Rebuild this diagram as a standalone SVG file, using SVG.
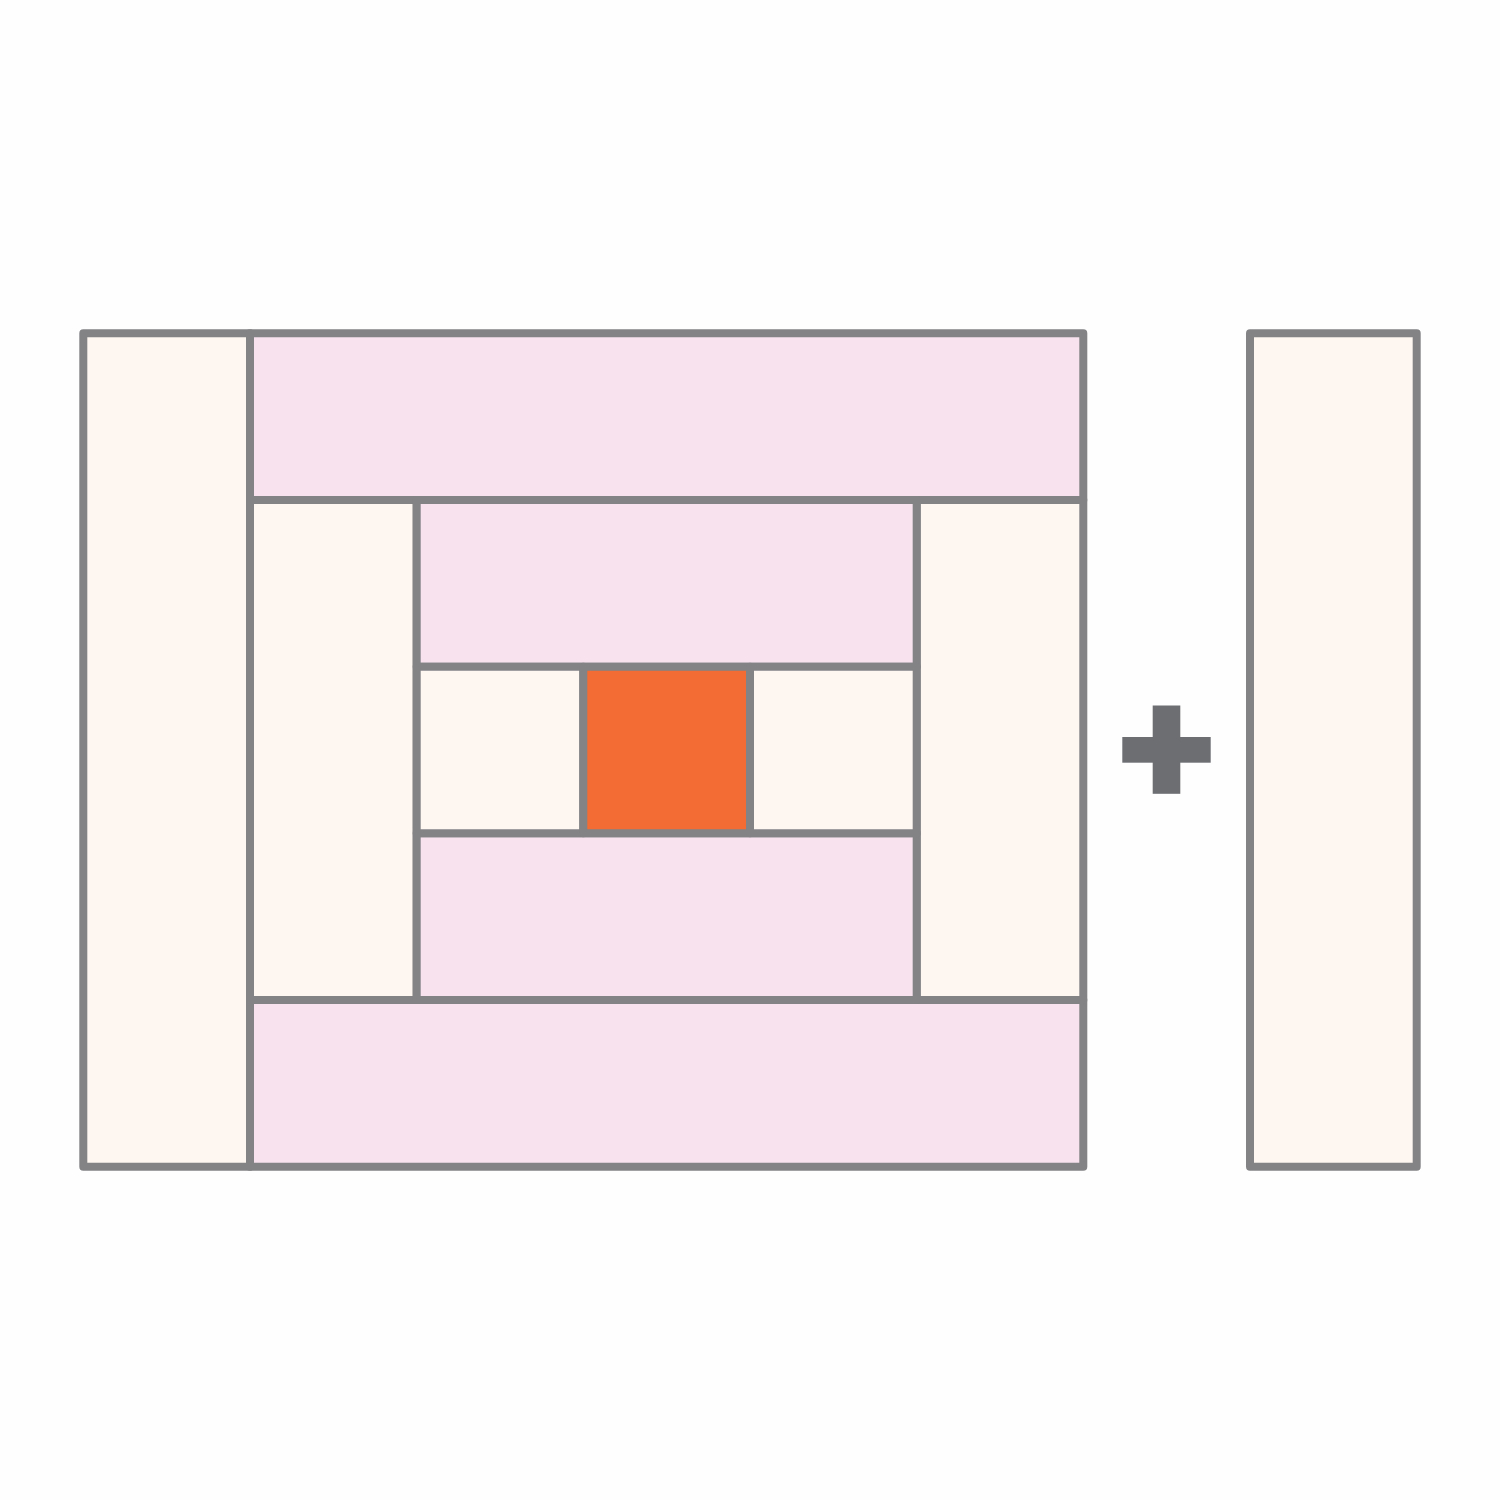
<svg xmlns="http://www.w3.org/2000/svg" width="1500" height="1500" viewBox="0 0 1500 1500">
<style>
.p{stroke:#838386;stroke-width:8;stroke-linejoin:round}
.c{fill:#FEF6F0}
.k{fill:#F7E2ED}
.o{fill:#F26C33}
</style>
<rect width="1500" height="1500" fill="#FEFEFE"/>
<g id="block">
<rect id="left-strip" class="p c" x="83.3" y="333.3" width="166.7" height="833.4"/>
<rect id="top-strip" class="p k" x="250" y="333.3" width="833.3" height="166.7"/>
<rect id="bottom-strip" class="p k" x="250" y="1000" width="833.3" height="166.7"/>
<rect id="inner-left" class="p c" x="250" y="500" width="166.7" height="500"/>
<rect id="inner-right" class="p c" x="916.7" y="500" width="166.6" height="500"/>
<rect id="inner-top" class="p k" x="416.7" y="500" width="500" height="166.7"/>
<rect id="inner-bottom" class="p k" x="416.7" y="833.3" width="500" height="166.7"/>
<rect id="center-left" class="p c" x="416.7" y="666.7" width="166.6" height="166.6"/>
<rect id="center" class="p o" x="583.3" y="666.7" width="166.7" height="166.6"/>
<rect id="center-right" class="p c" x="750" y="666.7" width="166.7" height="166.6"/>
</g>
<g id="plus" fill="#6D6E72">
<rect x="1152.7" y="705.5" width="27.6" height="88.3"/>
<rect x="1122.3" y="737" width="88.4" height="25.7"/>
</g>
<g id="extra-strip">
<rect class="p c" x="1250" y="333.3" width="166.7" height="833.4"/>
</g>
</svg>
